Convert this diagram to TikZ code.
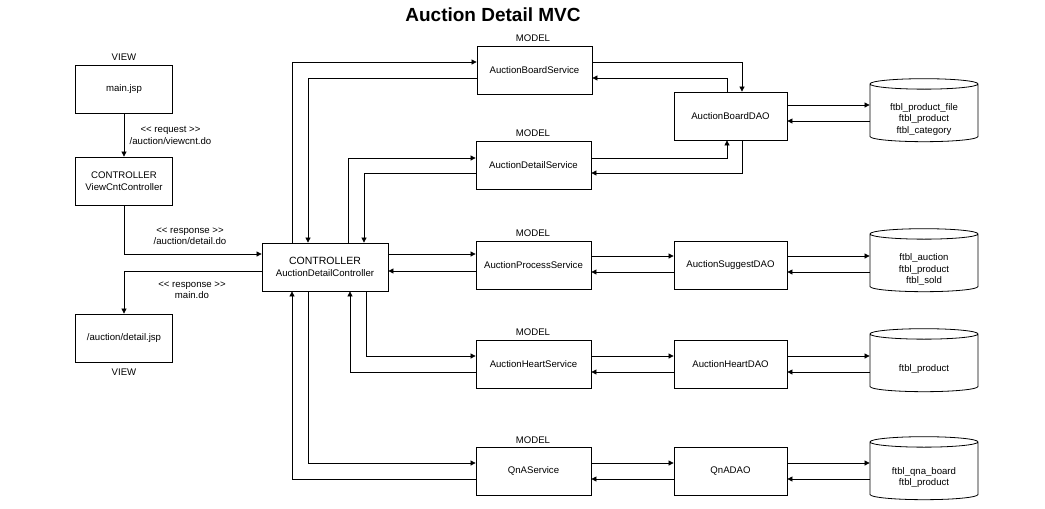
\documentclass[tikz,border=0pt]{standalone}
\usepackage{fontspec}
\setmainfont{Liberation Sans}
\usetikzlibrary{shapes.geometric,arrows.meta}
\begin{document}
\begin{tikzpicture}[x=1pt,y=-1pt,
  box/.style={draw,line width=0.8pt,minimum width=#1,minimum height=48pt,inner sep=1pt,align=center,font=\fontsize{9.6}{11.5}\selectfont},
  box/.default=115pt,
  db/.style={draw,line width=0.8pt,cylinder,shape border rotate=90,aspect=0.15,minimum width=108pt,minimum height=63pt,inner sep=1pt,font=\fontsize{9.6}{11.5}\selectfont},
  dbtext/.style={label={[lab,yshift=-6pt]center:#1}},
  lab/.style={font=\fontsize{9.6}{11.5}\selectfont,align=center},
  arr/.style={-{Triangle[length=5pt,width=5pt]},line width=0.7pt}]
\useasboundingbox (0,0) rectangle (1045,509);
\node[font=\bfseries\fontsize{19}{22}\selectfont] (title) at (493,15) {Auction Detail MVC};
% left
\node[box=97pt] (main) at (124,89.5) {main.jsp};
\node[lab] (v1) at (124,57) {VIEW};
\node[box=97pt] (vc) at (124,181) {CONTROLLER\\ViewCntController};
\node[box=97pt] (dj) at (124,338) {/auction/detail.jsp};
\node[lab] (v2) at (124,372) {VIEW};
\node[box=126pt] (ctrl) at (325,267) {\fontsize{10.5}{12}\selectfont CONTROLLER\\AuctionDetailController};
% services
\node[box] (bs) at (534.5,70) {AuctionBoardService};
\node[box] (ds) at (533.5,165) {AuctionDetailService};
\node[box] (ps) at (533.5,265) {AuctionProcessService};
\node[box] (hs) at (533.5,364) {AuctionHeartService};
\node[box] (qs) at (533.5,471) {QnAService};
\foreach \n/\y in {m1/38,m2/133,m3/233,m4/332,m5/440}
  \node[lab] (\n) at (533,\y) {MODEL};
% daos
\node[box=113pt] (bd) at (730.5,116) {AuctionBoardDAO};
\node[box=113pt] (sd) at (730.5,265) {AuctionSuggestDAO};
\node[box=113pt] (hd) at (730.5,364) {AuctionHeartDAO};
\node[box=113pt] (qd) at (730.5,471) {QnADAO};
% dbs
\node[db,dbtext={ftbl\_product\_file\\ftbl\_product\\ftbl\_category}] (c1) at (924,113.5) {\phantom{ftbl\_product\_file}};
\node[db,dbtext={ftbl\_auction\\ftbl\_product\\ftbl\_sold}] (c2) at (924,263.5) {\phantom{ftbl\_product\_file}};
\node[db,dbtext={ftbl\_product}] (c3) at (924,363.5) {\phantom{ftbl\_product\_file}};
\node[db,dbtext={ftbl\_qna\_board\\ftbl\_product}] (c4) at (924,471.5) {\phantom{ftbl\_product\_file}};
% left flow
\draw[arr] (main) -- node[lab,right,xshift=2pt] {{<}{<} request {>}{>}\\/auction/viewcnt.do} (vc);
\draw[arr] (vc.south) |- (ctrl.west |- 0,254);
\node[lab] (l2) at (190,236) {{<}{<} response {>}{>}\\/auction/detail.do};
\draw[arr] (ctrl.west |- 0,271) -| (dj.north);
\node[lab] (l3) at (192,290) {{<}{<} response {>}{>}\\main.do};
% controller <-> services
\draw[arr] (ctrl.north -| 292,0) |- (bs.west |- 0,62);
\draw[arr] (bs.west |- 0,78) -| (ctrl.north -| 308,0);
\draw[arr] (ctrl.north -| 348,0) |- (ds.west |- 0,158);
\draw[arr] (ds.west |- 0,173) -| (ctrl.north -| 364,0);
\draw[arr] (ctrl.east |- 0,254) -- (ps.west |- 0,254);
\draw[arr] (ps.west |- 0,271) -- (ctrl.east |- 0,271);
\draw[arr] (ctrl.south -| 366,0) |- (hs.west |- 0,356);
\draw[arr] (hs.west |- 0,372) -| (ctrl.south -| 350,0);
\draw[arr] (ctrl.south -| 308,0) |- (qs.west |- 0,463);
\draw[arr] (qs.west |- 0,479) -| (ctrl.south -| 292,0);
% services <-> daos
\draw[arr] (bs.east |- 0,62) -| (bd.north -| 742,0);
\draw[arr] (bd.north -| 727,0) |- (bs.east |- 0,78);
\draw[arr] (ds.east |- 0,158) -| (bd.south -| 727,0);
\draw[arr] (bd.south -| 742,0) |- (ds.east |- 0,173);
\foreach \s/\d/\y in {ps/sd/256,hs/hd/356,qs/qd/463}{
  \draw[arr] (\s.east |- 0,\y) -- (\d.west |- 0,\y);
  \draw[arr] (\d.west |- 0,\y+16) -- (\s.east |- 0,\y+16);}
% daos <-> dbs
\foreach \d/\c/\y in {bd/c1/105,sd/c2/256,hd/c3/356,qd/c4/463}{
  \draw[arr] (\d.east |- 0,\y) -- (\c.west |- 0,\y);
  \draw[arr] (\c.west |- 0,\y+16) -- (\d.east |- 0,\y+16);}
\end{tikzpicture}
\end{document}
